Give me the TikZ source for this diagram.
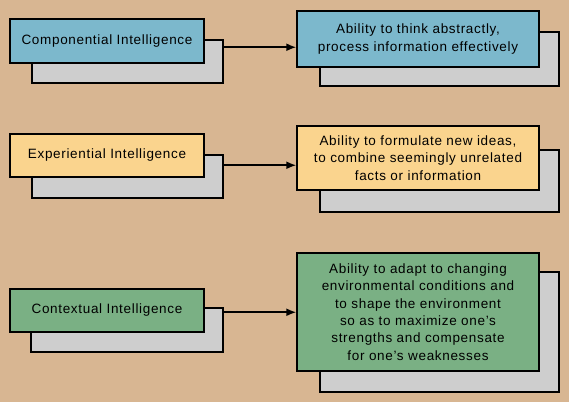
\documentclass[tikz,border=0pt]{standalone}
\usepackage{fontspec}
\setmainfont{Liberation Sans}[LetterSpace=5]
\usetikzlibrary{arrows.meta}
\definecolor{bg}{RGB}{216,182,146}
\definecolor{cblue}{RGB}{124,184,204}
\definecolor{corange}{RGB}{250,212,142}
\definecolor{cgreen}{RGB}{122,176,132}
\definecolor{cshadow}{RGB}{206,206,206}
\tikzset{
  x=1pt,y=1pt,
  front/.style={draw=black,line width=1.5pt,inner sep=0pt,align=center,
    font=\fontsize{13.5}{17.3}\selectfont},
  shadowbox/.style={draw=black,line width=1.5pt,fill=cshadow,inner sep=0pt},
  arr/.style={line width=1.6pt,-{Latex[length=10pt,width=8pt]}}
}
\begin{document}
\begin{tikzpicture}
\fill[bg] (0,0) rectangle (569,402);
\useasboundingbox (0,0) rectangle (569,402);
% row 1
\node[shadowbox,minimum width=191pt,minimum height=43pt] (sl1) at (127.5,340.5) {};
\node[front,fill=cblue,minimum width=194pt,minimum height=44pt] (l1) at (107,361) {Componential\ Intelligence};
\node[shadowbox,minimum width=239pt,minimum height=54pt] (sr1) at (439.5,343) {};
\node[front,fill=cblue,minimum width=242pt,minimum height=56pt] (r1) at (418,363) {Ability to think abstractly,\\process information effectively};
% row 2
\node[shadowbox,minimum width=191pt,minimum height=43pt] (sl2) at (127.5,225.5) {};
\node[front,fill=corange,minimum width=194pt,minimum height=43pt] (l2) at (107,246.5) {Experiential\ Intelligence};
\node[shadowbox,minimum width=239pt,minimum height=62pt] (sr2) at (439.5,221) {};
\node[front,fill=corange,minimum width=242pt,minimum height=64pt] (r2) at (418,244) {Ability to formulate new ideas,\\to combine seemingly unrelated\\facts or information};
% row 3
\node[shadowbox,minimum width=192pt,minimum height=44pt] (sl3) at (127,72) {};
\node[front,fill=cgreen,minimum width=194pt,minimum height=43pt] (l3) at (107,91.5) {Contextual\ Intelligence};
\node[shadowbox,minimum width=239pt,minimum height=120pt] (sr3) at (439.5,70) {};
\node[front,fill=cgreen,minimum width=242pt,minimum height=118pt] (r3) at (418,90) {Ability to adapt to changing\\environmental conditions and\\to shape the environment\\so as to maximize one's\\strengths and compensate\\for one's weaknesses};
% arrows
\draw[arr] ([yshift=-8pt]sl1.north east) -- ([yshift=-8pt]sl1.north east -| r1.west);
\draw[arr] ([yshift=-11pt]sl2.north east) -- ([yshift=-11pt]sl2.north east -| r2.west);
\draw[arr] ([yshift=-5pt]sl3.north east) -- ([yshift=-5pt]sl3.north east -| r3.west);
\end{tikzpicture}
\end{document}
